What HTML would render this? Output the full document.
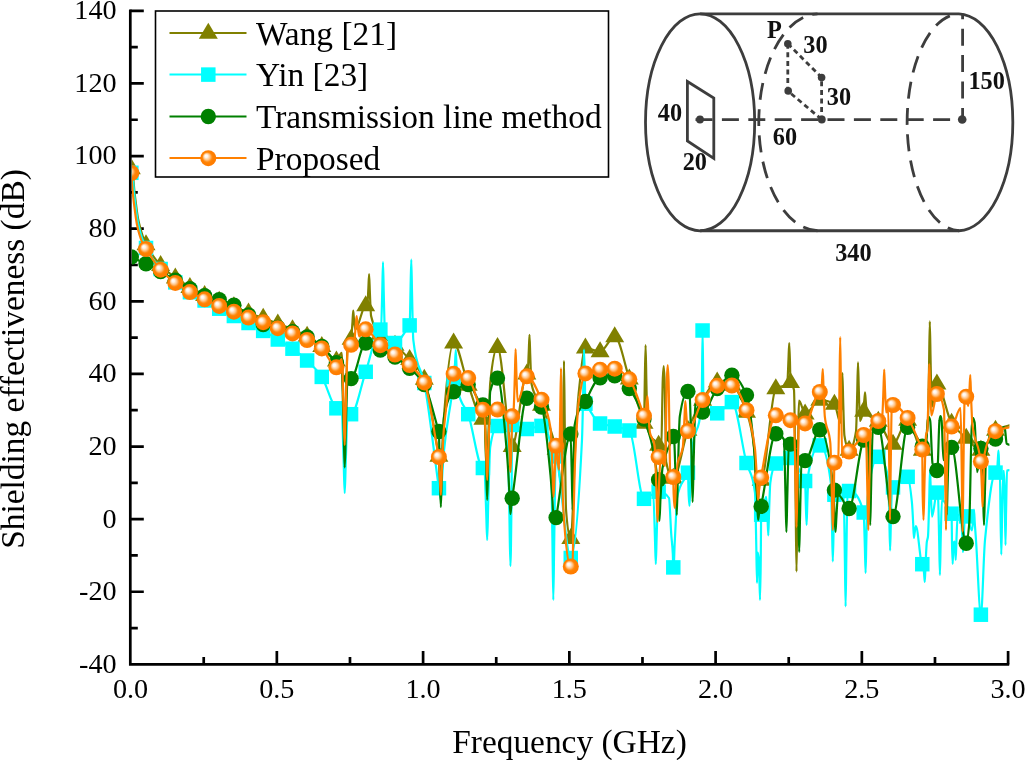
<!DOCTYPE html>
<html><head><meta charset="utf-8"><style>
html,body{margin:0;padding:0;background:#fff;}
svg{display:block;will-change:transform;}
text{font-family:"Liberation Serif",serif;}
</style></head><body>
<svg width="1025" height="760" viewBox="0 0 1025 760">
<defs>
<radialGradient id="sph" cx="0.5" cy="0.5" r="0.5" fx="0.34" fy="0.34" gradientUnits="objectBoundingBox">
<stop offset="0" stop-color="#ffffff"/>
<stop offset="0.18" stop-color="#fff4ea"/>
<stop offset="0.4" stop-color="#ffc589"/>
<stop offset="0.6" stop-color="#ff8a12"/>
<stop offset="0.7" stop-color="#ff8000"/>
<stop offset="1" stop-color="#ff7b00"/>
</radialGradient>
</defs>
<g stroke="#000" stroke-width="2.7" fill="none" stroke-linecap="butt">
<path d="M130.3,9.5 V665.75 M128.95000000000002,664.4 H1009.2"/>
<path d="M130.3,628.08 h7.5 M130.3,591.77 h13.5 M130.3,555.46 h7.5 M130.3,519.15 h13.5 M130.3,482.84 h7.5 M130.3,446.53 h13.5 M130.3,410.22 h7.5 M130.3,373.91 h13.5 M130.3,337.60 h7.5 M130.3,301.29 h13.5 M130.3,264.98 h7.5 M130.3,228.67 h13.5 M130.3,192.36 h7.5 M130.3,156.05 h13.5 M130.3,119.74 h7.5 M130.3,83.43 h13.5 M130.3,47.12 h7.5 M130.3,10.81 h13.5 M203.72,664.4 v-7.5 M276.85,664.4 v-13.5 M349.98,664.4 v-7.5 M423.10,664.4 v-13.5 M496.23,664.4 v-7.5 M569.35,664.4 v-13.5 M642.48,664.4 v-7.5 M715.60,664.4 v-13.5 M788.73,664.4 v-7.5 M861.85,664.4 v-13.5 M934.98,664.4 v-7.5 M1008.10,664.4 v-13.5"/>
</g>
<g font-family="Liberation Serif, serif" font-size="28.2" fill="#000">
<text x="116.6" y="672.79" text-anchor="end">-40</text>
<text x="116.6" y="600.17" text-anchor="end">-20</text>
<text x="116.6" y="527.55" text-anchor="end">0</text>
<text x="116.6" y="454.93" text-anchor="end">20</text>
<text x="116.6" y="382.31" text-anchor="end">40</text>
<text x="116.6" y="309.69" text-anchor="end">60</text>
<text x="116.6" y="237.07" text-anchor="end">80</text>
<text x="116.6" y="164.45" text-anchor="end">100</text>
<text x="116.6" y="91.83" text-anchor="end">120</text>
<text x="116.6" y="19.21" text-anchor="end">140</text>
<text x="130.60" y="698.3" text-anchor="middle">0.0</text>
<text x="276.85" y="698.3" text-anchor="middle">0.5</text>
<text x="423.10" y="698.3" text-anchor="middle">1.0</text>
<text x="569.35" y="698.3" text-anchor="middle">1.5</text>
<text x="715.60" y="698.3" text-anchor="middle">2.0</text>
<text x="861.85" y="698.3" text-anchor="middle">2.5</text>
<text x="1008.10" y="698.3" text-anchor="middle">3.0</text>
</g>
<text font-family="Liberation Serif, serif" font-size="33.4" x="569.5" y="752.8" text-anchor="middle">Frequency (GHz)</text>
<text font-family="Liberation Serif, serif" font-size="33.4" transform="translate(24.3,359) rotate(-90)" text-anchor="middle">Shielding effectiveness (dB)</text>
<clipPath id="pc"><rect x="131.9" y="9" width="877.5" height="654"/></clipPath>
<g clip-path="url(#pc)">
<path d="M131.3,168.6 C131.9,171.1 132.4,172.5 133.0,176.0 C133.4,178.8 133.9,185.9 134.3,190.0 C134.9,195.7 135.5,200.4 136.1,205.0 C136.7,209.9 137.4,215.2 138.0,218.5 C138.9,223.2 139.8,226.3 140.7,229.5 C141.5,232.5 142.4,235.2 143.2,237.5 C144.1,240.1 145.1,242.7 146.0,244.5 C150.9,253.9 155.8,260.1 160.6,265.3 C165.5,270.5 170.4,274.1 175.3,277.7 C180.2,281.3 185.1,284.4 189.9,287.3 C194.8,290.2 199.7,292.9 204.6,295.2 C209.5,297.5 214.3,299.2 219.2,301.1 C224.1,303.0 229.0,304.6 233.9,306.5 C238.8,308.4 243.6,310.9 248.5,312.8 C253.4,314.7 258.3,316.3 263.2,318.1 C268.1,319.9 272.9,321.8 277.8,323.7 C282.7,325.6 287.6,327.4 292.5,329.5 C297.3,331.6 302.2,333.4 307.1,336.1 C312.0,338.8 316.9,342.3 321.8,346.3 C326.6,350.3 331.5,360.8 336.4,360.8 C338.2,360.8 339.9,352.9 341.7,352.9 C342.3,352.9 343.0,389.5 343.6,411.2 C344.0,422.9 344.3,450.0 344.7,450.0 C345.1,450.0 345.4,420.4 345.8,407.6 C346.4,383.9 347.1,346.0 347.7,344.0 C348.8,340.5 349.9,342.3 351.1,339.0 C351.5,337.6 352.0,328.6 352.5,321.9 C352.7,318.7 353.0,310.7 353.2,310.7 C353.4,310.7 353.7,316.0 353.9,318.2 C354.3,322.5 354.8,329.5 355.2,329.5 C358.7,329.5 362.2,305.6 365.7,305.6 C366.2,305.6 366.6,308.3 367.1,308.3 C367.5,308.3 368.0,295.4 368.4,287.7 C368.6,283.6 368.9,274.0 369.1,274.0 C369.3,274.0 369.6,285.8 369.8,290.8 C370.2,300.2 370.7,314.1 371.1,316.1 C374.2,329.7 377.3,330.5 380.3,334.0 C385.2,339.5 390.1,340.8 395.0,345.0 C399.9,349.2 404.8,353.9 409.6,359.4 C414.5,364.9 419.4,368.5 424.3,379.0 C428.8,388.7 433.4,426.7 437.9,450.5 C438.2,452.4 438.6,453.0 438.9,456.0 C439.2,458.7 439.5,472.6 439.8,479.0 C440.2,486.4 440.5,498.0 440.9,498.0 C441.2,498.0 441.6,475.5 441.9,465.9 C442.6,447.9 443.2,426.3 443.9,417.6 C447.1,374.6 450.4,342.8 453.6,342.8 C458.5,342.8 463.3,372.4 468.2,385.0 C473.1,397.6 478.0,419.0 482.9,419.0 C483.3,419.0 483.8,412.5 484.2,412.5 C484.8,412.5 485.5,441.7 486.1,459.0 C486.5,468.3 486.8,490.0 487.2,490.0 C487.6,490.0 487.9,460.1 488.2,447.3 C488.9,423.4 489.6,389.6 490.2,383.2 C492.6,358.9 495.1,347.3 497.5,347.3 C502.4,347.3 507.3,446.2 512.2,446.2 C517.1,446.2 521.9,373.7 526.8,373.7 C527.0,373.7 527.3,375.2 527.5,375.2 C527.9,375.2 528.4,360.0 528.8,350.9 C529.0,346.1 529.3,334.8 529.5,334.8 C529.7,334.8 530.0,348.5 530.2,354.4 C530.6,365.3 531.1,381.6 531.5,383.7 C534.8,400.2 538.1,396.8 541.5,405.0 C546.3,417.1 551.2,428.4 556.1,449.1 C558.1,457.4 560.0,485.0 562.0,485.0 C562.4,485.0 562.9,438.3 563.3,410.5 C563.5,395.5 563.8,360.8 564.0,360.8 C564.2,360.8 564.5,402.3 564.7,420.2 C565.1,453.5 565.6,503.6 566.0,509.4 C567.6,530.5 569.2,538.4 570.8,538.4 C572.5,538.4 574.3,457.8 576.0,430.0 C577.0,414.1 578.0,399.2 579.0,390.0 C581.1,370.4 583.3,347.9 585.4,347.9 C590.3,347.9 595.2,351.6 600.1,351.6 C604.9,351.6 609.8,336.5 614.7,336.5 C619.6,336.5 624.5,364.3 629.3,378.7 C634.1,392.7 638.8,407.4 643.6,421.8 C643.7,422.2 643.9,423.0 644.0,423.0 C644.3,423.0 644.6,390.1 644.9,375.7 C645.1,364.6 645.4,345.0 645.6,345.0 C645.8,345.0 646.1,368.3 646.3,378.4 C646.7,397.0 647.2,426.8 647.6,428.4 C651.3,442.5 655.0,438.1 658.6,445.0 C659.5,446.6 660.3,450.8 661.2,450.8 C661.7,450.8 662.3,390.0 662.8,378.7 C663.1,372.6 663.4,366.0 663.7,366.0 C664.0,366.0 664.3,373.5 664.6,380.4 C665.1,393.2 665.7,459.1 666.2,462.0 C668.6,474.6 670.9,478.0 673.3,478.0 C678.2,478.0 683.1,442.3 687.9,430.0 C692.8,417.7 697.7,407.6 702.6,400.0 C707.5,392.4 712.3,381.8 717.2,381.8 C722.1,381.8 727.0,383.1 731.9,385.0 C736.8,386.9 741.6,398.5 746.5,412.0 C749.0,418.9 751.5,424.7 754.0,446.7 C754.6,452.5 755.3,474.3 756.0,490.7 C756.3,499.5 756.6,520.0 757.0,520.0 C757.4,520.0 757.7,507.3 758.0,501.8 C758.7,491.7 759.4,474.6 760.0,474.6 C760.4,474.6 760.8,480.0 761.2,480.0 C766.1,480.0 770.9,392.2 775.8,388.5 C779.6,385.6 783.4,387.9 787.2,383.7 C787.6,383.2 788.1,368.4 788.5,359.3 C788.7,354.4 789.0,343.0 789.2,343.0 C789.4,343.0 789.7,352.4 789.9,359.4 C790.1,365.0 790.3,381.5 790.5,382.3 C790.7,383.3 791.0,383.4 791.2,383.9 C792.1,385.9 793.1,385.7 794.0,389.9 C794.5,392.4 795.1,458.3 795.6,498.9 C795.9,520.8 796.2,571.6 796.5,571.6 C796.8,571.6 797.1,523.8 797.4,503.2 C797.9,465.0 798.5,400.7 799.0,400.7 C801.0,400.7 803.1,413.8 805.1,413.8 C810.0,413.8 814.9,400.0 819.8,400.0 C824.6,400.0 829.5,401.2 834.4,404.0 C836.4,405.1 838.4,422.8 840.4,422.8 C840.8,422.8 841.3,404.1 841.7,392.9 C841.9,386.9 842.2,373.0 842.4,373.0 C842.6,373.0 842.9,390.4 843.1,398.0 C843.5,411.9 844.0,432.5 844.4,435.4 C846.0,445.7 847.5,450.0 849.1,450.0 C851.4,450.0 853.7,445.6 856.0,431.5 C856.4,428.9 856.9,405.5 857.3,390.0 C857.5,381.7 857.8,362.4 858.0,362.4 C858.2,362.4 858.5,378.7 858.7,385.8 C859.1,398.9 859.6,420.9 860.0,420.9 C861.0,420.9 862.0,415.5 863.0,412.9 C863.2,412.2 863.5,412.1 863.7,411.0 C863.9,410.1 864.1,403.4 864.3,400.6 C864.5,397.3 864.8,392.4 865.0,392.4 C865.2,392.4 865.5,398.2 865.7,400.7 C866.1,405.4 866.6,412.5 867.0,413.3 C870.8,419.5 874.6,417.5 878.3,421.0 C883.2,425.6 888.1,444.0 893.0,444.0 C897.9,444.0 902.8,420.0 907.6,420.0 C912.5,420.0 917.4,450.0 922.3,450.0 C924.1,450.0 926.0,443.4 927.8,425.1 C928.2,420.8 928.7,386.1 929.1,362.9 C929.3,350.4 929.6,321.4 929.8,321.4 C930.0,321.4 930.3,345.3 930.5,355.6 C930.9,374.8 931.4,407.0 931.8,407.0 C933.5,407.0 935.2,383.8 936.9,383.8 C941.8,383.8 946.7,415.8 951.6,423.0 C956.5,430.2 961.3,433.6 966.2,438.0 C971.1,442.4 976.0,450.0 980.9,450.0 C985.8,450.0 990.6,432.7 995.5,430.0 C1000.4,427.3 1005.3,426.7 1010.2,425.0" fill="none" stroke="#808000" stroke-width="2.2" stroke-linejoin="round"/>
<g fill="#808000"><path d="M131.3,158.3l9.5,16h-19z"/><path d="M146.0,234.2l9.5,16h-19z"/><path d="M160.6,255.0l9.5,16h-19z"/><path d="M175.3,267.4l9.5,16h-19z"/><path d="M189.9,277.0l9.5,16h-19z"/><path d="M204.6,284.9l9.5,16h-19z"/><path d="M219.2,290.8l9.5,16h-19z"/><path d="M233.9,296.2l9.5,16h-19z"/><path d="M248.5,302.5l9.5,16h-19z"/><path d="M263.2,307.8l9.5,16h-19z"/><path d="M277.8,313.4l9.5,16h-19z"/><path d="M292.5,319.2l9.5,16h-19z"/><path d="M307.1,325.8l9.5,16h-19z"/><path d="M321.8,336.0l9.5,16h-19z"/><path d="M336.4,350.5l9.5,16h-19z"/><path d="M351.1,328.7l9.5,16h-19z"/><path d="M365.7,295.3l9.5,16h-19z"/><path d="M380.3,323.7l9.5,16h-19z"/><path d="M395.0,334.7l9.5,16h-19z"/><path d="M409.6,349.1l9.5,16h-19z"/><path d="M424.3,368.7l9.5,16h-19z"/><path d="M438.9,445.7l9.5,16h-19z"/><path d="M453.6,332.5l9.5,16h-19z"/><path d="M468.2,374.7l9.5,16h-19z"/><path d="M482.9,408.7l9.5,16h-19z"/><path d="M497.5,337.0l9.5,16h-19z"/><path d="M512.2,435.9l9.5,16h-19z"/><path d="M526.8,363.4l9.5,16h-19z"/><path d="M541.5,394.7l9.5,16h-19z"/><path d="M556.1,438.8l9.5,16h-19z"/><path d="M570.8,528.1l9.5,16h-19z"/><path d="M585.4,337.6l9.5,16h-19z"/><path d="M600.1,341.3l9.5,16h-19z"/><path d="M614.7,326.2l9.5,16h-19z"/><path d="M629.3,368.4l9.5,16h-19z"/><path d="M644.0,412.7l9.5,16h-19z"/><path d="M658.6,434.7l9.5,16h-19z"/><path d="M673.3,467.7l9.5,16h-19z"/><path d="M687.9,419.7l9.5,16h-19z"/><path d="M702.6,389.7l9.5,16h-19z"/><path d="M717.2,371.5l9.5,16h-19z"/><path d="M731.9,374.7l9.5,16h-19z"/><path d="M746.5,401.7l9.5,16h-19z"/><path d="M761.2,469.7l9.5,16h-19z"/><path d="M775.8,378.2l9.5,16h-19z"/><path d="M790.5,372.0l9.5,16h-19z"/><path d="M805.1,403.5l9.5,16h-19z"/><path d="M819.8,389.7l9.5,16h-19z"/><path d="M834.4,393.7l9.5,16h-19z"/><path d="M849.1,439.7l9.5,16h-19z"/><path d="M863.7,400.7l9.5,16h-19z"/><path d="M878.3,410.7l9.5,16h-19z"/><path d="M893.0,433.7l9.5,16h-19z"/><path d="M907.6,409.7l9.5,16h-19z"/><path d="M922.3,439.7l9.5,16h-19z"/><path d="M936.9,373.5l9.5,16h-19z"/><path d="M951.6,412.7l9.5,16h-19z"/><path d="M966.2,427.7l9.5,16h-19z"/><path d="M980.9,439.7l9.5,16h-19z"/><path d="M995.5,419.7l9.5,16h-19z"/></g>
<path d="M131.3,172.8 C131.9,175.4 132.4,176.8 133.0,180.5 C133.4,183.4 133.9,190.9 134.3,195.0 C134.9,200.7 135.5,205.3 136.1,209.8 C136.7,214.5 137.4,219.4 138.0,222.7 C138.9,227.4 139.8,230.5 140.7,233.7 C141.5,236.6 142.4,239.3 143.2,241.5 C144.1,244.0 145.1,246.3 146.0,248.0 C150.9,257.1 155.8,263.5 160.6,269.0 C165.5,274.5 170.4,278.6 175.3,282.4 C180.2,286.2 185.1,289.2 189.9,292.2 C194.8,295.2 199.7,297.8 204.6,300.5 C209.5,303.2 214.3,306.1 219.2,308.7 C224.1,311.3 229.0,313.6 233.9,316.0 C238.8,318.4 243.6,320.5 248.5,323.0 C253.4,325.5 258.3,328.2 263.2,330.9 C268.1,333.6 272.9,336.5 277.8,339.5 C282.7,342.5 287.6,345.3 292.5,348.7 C297.3,352.1 302.2,355.9 307.1,360.5 C312.0,365.1 316.9,369.7 321.8,376.9 C326.6,384.1 331.5,405.3 336.4,408.3 C338.2,409.4 339.9,408.8 341.7,410.4 C342.3,411.0 343.0,441.5 343.6,460.0 C344.0,469.9 344.3,493.0 344.7,493.0 C345.1,493.0 345.4,470.6 345.8,460.9 C346.4,443.0 347.1,412.8 347.7,412.8 C348.8,412.8 349.9,414.2 351.1,414.2 C355.9,414.2 360.8,385.9 365.7,371.8 C370.6,357.7 375.5,329.6 380.3,329.6 C380.6,329.6 380.8,330.2 381.0,330.2 C381.4,330.2 381.9,304.5 382.3,289.3 C382.5,281.1 382.8,262.0 383.0,262.0 C383.2,262.0 383.5,282.1 383.7,290.7 C384.1,306.8 384.6,332.8 385.0,333.9 C388.3,341.7 391.7,343.0 395.0,343.0 C399.8,343.0 404.5,331.5 409.3,325.8 C409.4,325.7 409.5,325.6 409.6,325.4 C410.0,324.8 410.3,298.6 410.6,286.0 C410.8,276.8 411.1,259.5 411.3,259.5 C411.5,259.5 411.8,281.9 412.0,291.6 C412.4,309.6 412.9,335.9 413.3,339.8 C417.0,372.9 420.6,364.6 424.3,383.0 C428.8,405.8 433.4,448.2 437.9,480.8 C438.2,483.2 438.6,486.3 438.9,488.2 C439.2,489.9 439.5,490.6 439.8,492.3 C440.2,494.2 440.5,500.0 440.9,500.0 C441.2,500.0 441.6,486.5 441.9,480.6 C442.6,469.8 443.2,458.5 443.9,451.5 C447.1,417.2 450.4,411.8 453.6,380.5 C454.1,375.6 454.6,369.6 455.1,362.2 C455.3,358.8 455.6,350.0 455.8,350.0 C456.0,350.0 456.3,361.1 456.5,365.9 C456.9,374.8 457.4,387.6 457.8,389.8 C461.3,407.9 464.8,404.4 468.2,414.2 C473.1,428.0 478.0,468.0 482.9,468.0 C483.3,468.0 483.8,464.2 484.2,464.2 C484.8,464.2 485.5,492.7 486.1,509.7 C486.5,518.8 486.8,540.0 487.2,540.0 C487.6,540.0 487.9,514.0 488.2,502.8 C488.9,482.0 489.6,451.0 490.2,447.0 C492.6,431.9 495.1,426.3 497.5,426.0 C500.8,425.5 504.1,425.3 507.4,425.3 C508.0,425.3 508.7,478.3 509.3,509.7 C509.7,526.7 510.0,566.0 510.4,566.0 C510.8,566.0 511.1,536.1 511.4,509.7 C511.7,491.6 511.9,425.0 512.2,425.0 C512.6,425.0 513.0,425.2 513.4,425.3 C517.9,426.6 522.3,429.0 526.8,429.0 C531.7,429.0 536.6,425.9 541.5,425.9 C544.6,425.9 547.7,429.3 550.8,445.3 C551.3,448.1 551.9,503.5 552.4,538.1 C552.7,556.8 553.0,600.0 553.3,600.0 C553.6,600.0 553.9,559.7 554.2,542.3 C554.7,510.0 555.3,455.7 555.8,455.7 C555.9,455.7 556.0,456.1 556.1,456.4 C561.0,469.7 565.9,558.0 570.8,558.0 C574.5,558.0 578.3,514.3 582.0,439.6 C582.4,430.9 582.9,405.7 583.3,385.5 C583.5,374.7 583.8,349.5 584.0,349.5 C584.2,349.5 584.5,362.8 584.7,371.5 C584.9,380.3 585.2,403.1 585.4,403.7 C585.6,404.2 585.8,404.2 586.0,404.5 C590.7,410.8 595.4,421.8 600.1,423.5 C604.9,425.2 609.8,425.4 614.7,426.5 C619.6,427.6 624.5,428.0 629.3,430.5 C634.2,433.0 639.1,498.8 644.0,498.8 C647.1,498.8 650.2,494.3 653.3,494.3 C653.8,494.3 654.4,520.5 654.9,536.1 C655.2,544.5 655.5,564.0 655.8,564.0 C656.1,564.0 656.4,543.8 656.7,535.1 C657.2,519.0 657.8,492.3 658.3,491.9 C658.4,491.8 658.5,491.7 658.6,491.7 C662.1,491.7 665.5,492.9 669.0,498.0 C669.7,499.1 670.5,523.4 671.2,533.6 C671.7,541.1 672.3,543.4 672.8,553.6 C673.0,556.6 673.1,567.4 673.3,567.4 C673.4,567.4 673.6,567.2 673.7,567.0 C674.0,566.5 674.3,551.9 674.6,545.4 C675.1,533.3 675.7,523.4 676.2,513.0 C676.5,507.8 676.7,499.4 677.0,498.0 C680.3,480.4 683.7,482.6 687.0,474.9 C687.3,474.1 687.6,472.7 687.9,472.7 C688.2,472.7 688.4,489.0 688.6,493.5 C688.9,499.3 689.2,506.0 689.5,506.0 C689.8,506.0 690.1,490.7 690.4,484.1 C690.9,471.8 691.5,456.5 692.0,451.2 C695.2,419.8 698.5,442.3 701.7,400.0 C702.0,396.2 702.3,330.5 702.6,330.5 C702.9,330.5 703.2,399.2 703.5,400.0 C708.1,412.2 712.7,413.3 717.2,413.3 C722.1,413.3 727.0,402.1 731.9,402.1 C736.8,402.1 741.6,444.5 746.5,463.0 C749.3,473.7 752.2,469.8 755.0,492.9 C755.4,496.5 755.9,526.8 756.3,547.0 C756.5,557.8 756.8,583.0 757.0,583.0 C757.2,583.0 757.5,552.6 757.7,552.6 C758.1,552.6 758.6,556.3 759.0,561.4 C759.3,565.4 759.7,600.0 760.0,600.0 C760.2,600.0 760.5,581.1 760.7,564.7 C760.9,553.7 761.0,515.9 761.2,514.7 C761.4,512.7 761.7,512.8 762.0,511.8 C763.4,506.8 764.9,496.8 766.3,496.8 C766.7,496.8 767.2,511.3 767.6,520.0 C767.8,524.7 768.1,535.5 768.3,535.5 C768.5,535.5 768.8,520.8 769.0,514.4 C769.4,502.6 769.9,485.9 770.3,482.8 C772.1,469.5 774.0,464.9 775.8,463.5 C780.7,459.7 785.6,458.0 790.5,458.0 C795.2,458.0 799.9,472.8 804.6,480.2 C804.8,480.5 804.9,480.5 805.1,481.0 C805.4,481.7 805.6,499.5 805.9,507.1 C806.1,513.8 806.4,525.0 806.6,525.0 C806.8,525.0 807.1,510.3 807.3,504.0 C807.7,492.3 808.2,475.0 808.6,472.5 C812.3,451.6 816.0,445.4 819.8,445.4 C823.4,445.4 827.1,453.5 830.8,482.6 C831.2,486.0 831.7,512.3 832.1,529.9 C832.3,539.4 832.6,561.5 832.8,561.5 C833.0,561.5 833.3,544.3 833.5,534.7 C833.8,522.4 834.1,494.8 834.4,494.7 C834.5,494.6 834.7,494.6 834.8,494.6 C837.7,493.9 840.7,492.4 843.6,492.4 C844.0,492.4 844.5,535.3 844.9,560.9 C845.1,574.6 845.4,606.5 845.6,606.5 C845.8,606.5 846.1,574.3 846.3,560.4 C846.7,534.7 847.2,491.6 847.6,491.4 C848.1,491.1 848.6,491.0 849.1,491.0 C853.9,491.0 858.8,494.3 863.6,512.5 C864.0,514.1 864.5,535.2 864.9,548.7 C865.1,556.0 865.4,573.0 865.6,573.0 C865.8,573.0 866.1,551.9 866.3,542.9 C866.7,526.0 867.2,501.4 867.6,497.7 C871.2,466.6 874.8,456.8 878.3,456.8 C881.6,456.8 884.8,460.7 888.1,477.2 C888.5,479.4 889.0,504.8 889.4,521.2 C889.6,530.0 889.9,550.5 890.1,550.5 C890.3,550.5 890.6,532.3 890.8,524.5 C891.2,510.0 891.7,485.5 892.1,485.5 C892.4,485.5 892.7,487.4 893.0,487.4 C897.9,487.4 902.8,476.8 907.6,476.8 C909.1,476.8 910.5,488.6 911.9,502.2 C912.3,506.4 912.8,515.7 913.2,523.7 C913.4,528.0 913.7,538.0 913.9,538.0 C914.1,538.0 914.4,534.7 914.6,533.2 C915.0,530.6 915.5,526.1 915.9,526.1 C918.0,526.1 920.2,564.2 922.3,564.2 C922.5,564.2 922.6,561.7 922.8,561.7 C923.2,561.7 923.7,569.3 924.1,573.9 C924.3,576.3 924.6,582.0 924.8,582.0 C925.0,582.0 925.3,570.9 925.5,566.1 C925.9,557.1 926.4,545.5 926.8,542.1 C927.2,539.1 927.6,539.6 928.0,536.3 C928.4,532.7 928.9,511.1 929.3,496.2 C929.5,488.2 929.8,469.5 930.0,469.5 C930.2,469.5 930.5,482.7 930.7,488.4 C931.1,499.0 931.6,516.7 932.0,516.7 C933.6,516.7 935.3,492.6 936.9,492.6 C937.3,492.6 937.6,493.1 937.9,494.0 C938.3,495.1 938.8,524.5 939.2,542.6 C939.4,552.4 939.7,575.0 939.9,575.0 C940.1,575.0 940.4,554.0 940.6,544.9 C941.0,528.1 941.5,499.8 941.9,499.8 C944.8,499.8 947.8,508.2 950.7,512.4 C951.0,512.9 951.3,512.8 951.6,513.7 C951.7,514.1 951.9,537.4 952.0,543.4 C952.2,553.4 952.5,564.0 952.7,564.0 C952.9,564.0 953.2,545.0 953.4,544.1 C953.8,542.4 954.3,541.6 954.7,541.6 C955.0,541.6 955.4,560.0 955.7,560.0 C955.9,560.0 956.2,547.4 956.4,541.9 C956.8,531.8 957.3,514.8 957.7,514.8 C958.8,514.8 959.9,515.0 961.0,515.4 C961.4,515.6 961.9,529.2 962.3,537.4 C962.5,541.8 962.8,552.0 963.0,552.0 C963.2,552.0 963.5,542.0 963.7,537.7 C964.1,529.7 964.6,516.2 965.0,516.2 C965.4,516.2 965.8,516.3 966.2,516.4 C968.2,517.0 970.1,530.3 972.0,530.3 C972.4,530.3 972.9,522.5 973.3,517.8 C973.5,515.3 973.8,509.5 974.0,509.5 C974.2,509.5 974.5,518.0 974.7,521.7 C975.1,528.5 975.6,533.7 976.0,540.0 C977.6,563.7 979.3,614.7 980.9,614.7 C982.3,614.7 983.6,554.0 985.0,540.0 C988.5,504.3 992.0,473.6 995.5,472.6 C996.0,472.5 996.4,472.5 996.9,472.4 C997.2,472.2 997.5,464.1 997.9,459.2 C998.0,456.6 998.2,450.5 998.4,450.5 C998.6,450.5 998.8,455.1 998.9,459.0 C999.0,461.8 999.2,471.9 999.3,471.9 C999.5,471.9 999.7,471.8 999.9,471.8 C1000.1,471.8 1000.4,508.3 1000.6,521.5 C1000.8,534.8 1001.1,554.6 1001.3,554.6 C1001.5,554.6 1001.8,531.3 1002.0,521.2 C1002.4,502.6 1002.9,471.4 1003.3,471.2 C1003.5,471.1 1003.8,471.1 1004.0,471.1 C1004.3,471.1 1004.6,498.9 1005.0,515.4 C1005.1,524.3 1005.3,545.0 1005.5,545.0 C1005.7,545.0 1005.9,524.2 1006.0,515.2 C1006.4,498.6 1006.7,470.7 1007.0,470.6 C1008.1,470.1 1009.1,470.2 1010.2,470.0" fill="none" stroke="#00ffff" stroke-width="2.2" stroke-linejoin="round"/>
<g fill="#00ffff"><rect x="124.10" y="165.55" width="14.5" height="14.5"/><rect x="138.75" y="240.75" width="14.5" height="14.5"/><rect x="153.39" y="261.75" width="14.5" height="14.5"/><rect x="168.04" y="275.15" width="14.5" height="14.5"/><rect x="182.69" y="284.95" width="14.5" height="14.5"/><rect x="197.33" y="293.25" width="14.5" height="14.5"/><rect x="211.98" y="301.45" width="14.5" height="14.5"/><rect x="226.63" y="308.75" width="14.5" height="14.5"/><rect x="241.28" y="315.75" width="14.5" height="14.5"/><rect x="255.92" y="323.65" width="14.5" height="14.5"/><rect x="270.57" y="332.25" width="14.5" height="14.5"/><rect x="285.22" y="341.45" width="14.5" height="14.5"/><rect x="299.86" y="353.25" width="14.5" height="14.5"/><rect x="314.51" y="369.65" width="14.5" height="14.5"/><rect x="329.16" y="401.05" width="14.5" height="14.5"/><rect x="343.81" y="406.95" width="14.5" height="14.5"/><rect x="358.45" y="364.55" width="14.5" height="14.5"/><rect x="373.10" y="322.35" width="14.5" height="14.5"/><rect x="387.75" y="335.75" width="14.5" height="14.5"/><rect x="402.39" y="318.15" width="14.5" height="14.5"/><rect x="417.04" y="375.75" width="14.5" height="14.5"/><rect x="431.69" y="480.95" width="14.5" height="14.5"/><rect x="446.33" y="372.75" width="14.5" height="14.5"/><rect x="460.98" y="406.95" width="14.5" height="14.5"/><rect x="475.63" y="460.75" width="14.5" height="14.5"/><rect x="490.27" y="418.75" width="14.5" height="14.5"/><rect x="504.92" y="417.75" width="14.5" height="14.5"/><rect x="519.57" y="421.75" width="14.5" height="14.5"/><rect x="534.22" y="418.65" width="14.5" height="14.5"/><rect x="548.86" y="449.15" width="14.5" height="14.5"/><rect x="563.51" y="550.75" width="14.5" height="14.5"/><rect x="578.16" y="396.45" width="14.5" height="14.5"/><rect x="592.80" y="416.25" width="14.5" height="14.5"/><rect x="607.45" y="419.25" width="14.5" height="14.5"/><rect x="622.10" y="423.25" width="14.5" height="14.5"/><rect x="636.75" y="491.55" width="14.5" height="14.5"/><rect x="651.39" y="484.45" width="14.5" height="14.5"/><rect x="666.04" y="560.15" width="14.5" height="14.5"/><rect x="680.69" y="465.45" width="14.5" height="14.5"/><rect x="695.33" y="323.25" width="14.5" height="14.5"/><rect x="709.98" y="406.05" width="14.5" height="14.5"/><rect x="724.63" y="394.85" width="14.5" height="14.5"/><rect x="739.27" y="455.75" width="14.5" height="14.5"/><rect x="753.92" y="507.45" width="14.5" height="14.5"/><rect x="768.57" y="456.25" width="14.5" height="14.5"/><rect x="783.22" y="450.75" width="14.5" height="14.5"/><rect x="797.86" y="473.75" width="14.5" height="14.5"/><rect x="812.51" y="438.15" width="14.5" height="14.5"/><rect x="827.16" y="487.45" width="14.5" height="14.5"/><rect x="841.80" y="483.75" width="14.5" height="14.5"/><rect x="856.45" y="505.25" width="14.5" height="14.5"/><rect x="871.10" y="449.55" width="14.5" height="14.5"/><rect x="885.74" y="480.15" width="14.5" height="14.5"/><rect x="900.39" y="469.55" width="14.5" height="14.5"/><rect x="915.04" y="556.95" width="14.5" height="14.5"/><rect x="929.69" y="485.35" width="14.5" height="14.5"/><rect x="944.33" y="506.45" width="14.5" height="14.5"/><rect x="958.98" y="509.15" width="14.5" height="14.5"/><rect x="973.63" y="607.45" width="14.5" height="14.5"/><rect x="988.27" y="465.35" width="14.5" height="14.5"/></g>
<path d="M131.3,257.0 C136.2,259.3 141.1,261.4 146.0,263.8 C150.9,266.2 155.8,268.8 160.6,271.5 C165.5,274.2 170.4,277.3 175.3,280.2 C180.2,283.1 185.1,286.2 189.9,288.8 C194.8,291.4 199.7,294.0 204.6,295.7 C209.5,297.4 214.3,298.1 219.2,299.6 C224.1,301.1 229.0,302.9 233.9,305.3 C238.8,307.7 243.6,311.7 248.5,314.9 C253.4,318.1 258.3,323.0 263.2,324.5 C268.1,326.0 272.9,326.3 277.8,327.5 C282.7,328.7 287.6,330.2 292.5,331.7 C297.3,333.2 302.2,334.7 307.1,336.9 C312.0,339.1 316.9,342.4 321.8,346.4 C326.6,350.4 331.5,357.5 336.4,362.8 C338.2,364.7 339.9,364.2 341.7,368.5 C342.3,370.1 343.0,405.8 343.6,427.9 C344.0,439.8 344.3,467.5 344.7,467.5 C345.1,467.5 345.4,441.6 345.8,430.5 C346.4,409.8 347.1,375.0 347.7,375.0 C348.8,375.0 349.9,378.6 351.1,378.6 C355.9,378.6 360.8,343.0 365.7,343.0 C370.6,343.0 375.5,347.7 380.3,350.0 C385.2,352.3 390.1,354.1 395.0,357.0 C399.9,359.9 404.8,363.8 409.6,368.2 C414.5,372.6 419.4,376.4 424.3,384.5 C428.8,392.0 433.4,413.6 437.9,428.2 C438.2,429.3 438.6,429.4 438.9,431.5 C439.2,433.4 439.5,464.1 439.8,475.5 C440.2,488.5 440.5,507.0 440.9,507.0 C441.2,507.0 441.6,482.1 441.9,471.4 C442.6,451.5 443.2,422.0 443.9,418.0 C447.1,398.6 450.4,394.7 453.6,391.8 C458.5,387.5 463.3,384.5 468.2,384.5 C473.1,384.5 478.0,405.0 482.9,405.0 C483.3,405.0 483.8,402.6 484.2,402.6 C484.8,402.6 485.5,439.2 486.1,461.0 C486.5,472.8 486.8,500.0 487.2,500.0 C487.6,500.0 487.9,469.7 488.2,456.6 C488.9,432.4 489.6,394.3 490.2,391.6 C492.6,381.3 495.1,378.1 497.5,378.1 C500.8,378.1 504.1,419.7 507.4,459.1 C508.0,466.9 508.7,479.7 509.3,492.0 C509.7,498.6 510.0,514.0 510.4,514.0 C510.8,514.0 511.1,507.4 511.4,504.3 C511.7,502.2 511.9,500.0 512.2,498.2 C512.6,495.1 513.0,492.6 513.4,489.8 C517.9,459.3 522.3,398.3 526.8,398.3 C531.7,398.3 536.6,401.2 541.5,407.0 C544.5,410.6 547.5,444.5 550.5,475.2 C551.1,481.8 551.8,491.3 552.5,500.9 C552.8,506.0 553.1,518.0 553.5,518.0 C553.9,518.0 554.2,517.0 554.5,517.0 C555.1,517.0 555.6,517.6 556.1,517.6 C556.2,517.6 556.4,516.1 556.5,515.4 C561.2,488.6 565.9,434.9 570.6,434.9 C571.0,434.9 571.5,463.2 571.9,480.0 C572.1,489.0 572.4,510.0 572.6,510.0 C572.8,510.0 573.1,486.4 573.3,476.2 C573.7,457.3 574.2,427.9 574.6,425.5 C578.2,405.7 581.8,408.3 585.4,401.5 C590.3,392.3 595.2,379.0 600.1,377.8 C604.9,376.6 609.8,375.8 614.7,375.8 C619.6,375.8 624.5,382.6 629.3,388.6 C634.2,394.6 639.1,405.4 644.0,419.0 C648.1,430.5 652.3,439.0 656.4,470.5 C657.0,475.4 657.7,489.5 658.4,500.8 C658.7,506.9 659.0,521.0 659.4,521.0 C659.8,521.0 660.1,506.4 660.4,500.1 C661.1,488.4 661.8,472.6 662.4,468.7 C666.0,447.1 669.7,447.5 673.3,436.5 C673.5,436.0 673.6,434.9 673.8,434.9 C674.4,434.9 675.1,465.1 675.8,483.0 C676.1,492.6 676.4,515.0 676.8,515.0 C677.1,515.0 677.5,487.5 677.8,475.6 C678.5,453.6 679.1,420.8 679.8,416.5 C682.5,398.3 685.2,391.5 687.9,391.5 C688.5,391.5 689.0,392.4 689.6,393.8 C690.2,395.5 690.9,434.5 691.6,458.7 C691.9,471.8 692.2,502.0 692.6,502.0 C693.0,502.0 693.3,474.1 693.6,462.1 C694.3,439.8 695.0,402.2 695.6,402.2 C697.9,402.2 700.3,412.0 702.6,412.0 C707.5,412.0 712.3,394.1 717.2,388.5 C722.1,382.9 727.0,375.3 731.9,375.3 C736.8,375.3 741.6,383.2 746.5,395.1 C749.3,402.0 752.2,426.0 755.0,459.4 C755.6,467.1 756.3,482.2 757.0,495.8 C757.3,503.1 757.6,520.0 758.0,520.0 C758.4,520.0 758.7,515.7 759.0,514.0 C759.7,510.9 760.4,509.1 761.0,506.3 C765.9,485.3 770.9,433.7 775.8,433.7 C778.5,433.7 781.2,434.7 783.9,439.4 C784.4,440.4 785.0,474.3 785.5,495.0 C785.8,506.1 786.1,532.0 786.4,532.0 C786.7,532.0 787.0,507.1 787.3,496.4 C787.8,476.5 788.4,443.0 788.9,443.0 C789.4,443.0 789.9,443.7 790.5,444.1 C792.5,445.8 794.6,445.6 796.7,451.1 C797.2,452.6 797.8,489.1 798.3,511.6 C798.6,523.8 798.9,552.0 799.2,552.0 C799.5,552.0 799.8,525.4 800.1,513.9 C800.6,492.6 801.2,456.8 801.7,456.8 C802.8,456.8 804.0,460.6 805.1,460.6 C810.0,460.6 814.9,429.8 819.8,429.8 C824.2,429.8 828.6,447.5 833.0,484.3 C833.5,488.2 833.9,504.2 834.4,512.9 C834.8,519.8 835.1,532.0 835.5,532.0 C835.8,532.0 836.1,521.5 836.4,517.0 C836.9,508.7 837.5,494.6 838.0,494.6 C841.7,494.6 845.4,508.5 849.1,508.5 C853.9,508.5 858.8,446.3 863.7,440.0 C865.0,438.3 866.4,436.6 867.7,436.6 C868.2,436.6 868.8,469.8 869.3,489.6 C869.6,500.3 869.9,525.0 870.2,525.0 C870.5,525.0 870.8,499.1 871.1,487.9 C871.6,467.2 872.2,433.4 872.7,432.3 C874.6,428.4 876.5,427.4 878.3,427.4 C883.2,427.4 888.1,516.5 893.0,516.5 C897.9,516.5 902.8,427.4 907.6,427.4 C912.5,427.4 917.4,439.0 922.3,446.3 C923.4,447.9 924.4,451.6 925.5,451.6 C926.3,451.6 927.0,422.5 927.8,419.8 C928.2,418.3 928.6,417.0 929.0,417.0 C929.4,417.0 929.8,418.7 930.2,420.7 C931.0,424.4 931.7,460.6 932.5,463.2 C934.0,468.1 935.5,470.5 936.9,470.5 C937.1,470.5 937.3,470.1 937.5,469.6 C938.1,467.9 938.8,424.6 939.5,420.3 C939.8,418.0 940.1,416.0 940.5,416.0 C940.9,416.0 941.2,417.6 941.5,419.5 C942.2,423.0 942.9,460.1 943.5,460.1 C943.9,460.1 944.4,458.1 944.8,458.1 C945.2,458.1 945.7,479.5 946.1,492.2 C946.3,499.1 946.6,515.0 946.8,515.0 C947.0,515.0 947.3,497.3 947.5,489.7 C947.9,475.6 948.4,453.2 948.8,451.8 C949.7,448.7 950.7,447.4 951.6,447.4 C956.5,447.4 961.3,543.2 966.2,543.2 C967.2,543.2 968.2,535.1 969.2,524.0 C970.1,514.3 970.9,434.9 971.8,426.5 C972.3,421.9 972.7,418.0 973.2,418.0 C973.7,418.0 974.1,420.0 974.6,422.3 C975.5,426.6 976.3,472.2 977.2,472.2 C978.4,472.2 979.7,449.6 980.9,448.4 C981.1,448.2 981.3,448.0 981.5,448.0 C982.0,448.0 982.6,477.0 983.1,494.2 C983.4,503.5 983.7,525.0 984.0,525.0 C984.3,525.0 984.6,502.6 984.9,492.9 C985.4,475.0 986.0,445.7 986.5,444.8 C989.5,439.9 992.5,439.0 995.5,439.0 C997.2,439.0 999.0,441.1 1000.7,441.1 C1001.4,441.1 1002.0,429.3 1002.7,428.1 C1003.0,427.5 1003.4,427.0 1003.7,427.0 C1004.1,427.0 1004.4,427.6 1004.8,428.3 C1005.4,429.6 1006.1,443.0 1006.7,443.6 C1007.9,444.6 1009.0,444.5 1010.2,445.0" fill="none" stroke="#008000" stroke-width="2.2" stroke-linejoin="round"/>
<g fill="#008000"><circle cx="131.3" cy="257.0" r="7.7"/><circle cx="146.0" cy="263.8" r="7.7"/><circle cx="160.6" cy="271.5" r="7.7"/><circle cx="175.3" cy="280.2" r="7.7"/><circle cx="189.9" cy="288.8" r="7.7"/><circle cx="204.6" cy="295.7" r="7.7"/><circle cx="219.2" cy="299.6" r="7.7"/><circle cx="233.9" cy="305.3" r="7.7"/><circle cx="248.5" cy="314.9" r="7.7"/><circle cx="263.2" cy="324.5" r="7.7"/><circle cx="277.8" cy="327.5" r="7.7"/><circle cx="292.5" cy="331.7" r="7.7"/><circle cx="307.1" cy="336.9" r="7.7"/><circle cx="321.8" cy="346.4" r="7.7"/><circle cx="336.4" cy="362.8" r="7.7"/><circle cx="351.1" cy="378.6" r="7.7"/><circle cx="365.7" cy="343.0" r="7.7"/><circle cx="380.3" cy="350.0" r="7.7"/><circle cx="395.0" cy="357.0" r="7.7"/><circle cx="409.6" cy="368.2" r="7.7"/><circle cx="424.3" cy="384.5" r="7.7"/><circle cx="438.9" cy="431.5" r="7.7"/><circle cx="453.6" cy="391.8" r="7.7"/><circle cx="468.2" cy="384.5" r="7.7"/><circle cx="482.9" cy="405.0" r="7.7"/><circle cx="497.5" cy="378.1" r="7.7"/><circle cx="512.2" cy="498.2" r="7.7"/><circle cx="526.8" cy="398.3" r="7.7"/><circle cx="541.5" cy="407.0" r="7.7"/><circle cx="556.1" cy="517.6" r="7.7"/><circle cx="570.8" cy="434.0" r="7.7"/><circle cx="585.4" cy="401.5" r="7.7"/><circle cx="600.1" cy="377.8" r="7.7"/><circle cx="614.7" cy="375.8" r="7.7"/><circle cx="629.3" cy="388.6" r="7.7"/><circle cx="644.0" cy="419.0" r="7.7"/><circle cx="658.6" cy="479.8" r="7.7"/><circle cx="673.3" cy="436.5" r="7.7"/><circle cx="687.9" cy="391.5" r="7.7"/><circle cx="702.6" cy="412.0" r="7.7"/><circle cx="717.2" cy="388.5" r="7.7"/><circle cx="731.9" cy="375.3" r="7.7"/><circle cx="746.5" cy="395.1" r="7.7"/><circle cx="761.2" cy="506.3" r="7.7"/><circle cx="775.8" cy="433.7" r="7.7"/><circle cx="790.5" cy="444.1" r="7.7"/><circle cx="805.1" cy="460.6" r="7.7"/><circle cx="819.8" cy="429.8" r="7.7"/><circle cx="834.4" cy="490.1" r="7.7"/><circle cx="849.1" cy="508.5" r="7.7"/><circle cx="863.7" cy="440.0" r="7.7"/><circle cx="878.3" cy="427.4" r="7.7"/><circle cx="893.0" cy="516.5" r="7.7"/><circle cx="907.6" cy="427.4" r="7.7"/><circle cx="922.3" cy="446.3" r="7.7"/><circle cx="936.9" cy="470.5" r="7.7"/><circle cx="951.6" cy="447.4" r="7.7"/><circle cx="966.2" cy="543.2" r="7.7"/><circle cx="980.9" cy="448.4" r="7.7"/><circle cx="995.5" cy="439.0" r="7.7"/></g>
<path d="M131.3,173.0 C131.5,175.8 131.7,178.8 131.9,181.3 C132.3,186.8 132.7,192.0 133.1,196.0 C133.7,202.0 134.3,206.3 134.9,210.8 C135.5,215.5 136.2,220.4 136.8,223.7 C137.7,228.4 138.6,231.7 139.5,234.7 C140.4,237.8 141.4,240.5 142.3,242.5 C143.5,245.2 144.8,247.0 146.0,249.0 C150.9,256.8 155.8,264.3 160.6,269.7 C165.5,275.1 170.4,279.3 175.3,282.9 C180.2,286.5 185.1,289.4 189.9,292.1 C194.8,294.8 199.7,297.0 204.6,299.3 C209.5,301.6 214.3,303.8 219.2,305.9 C224.1,308.0 229.0,309.8 233.9,311.7 C238.8,313.6 243.6,315.9 248.5,317.6 C253.4,319.3 258.3,320.5 263.2,322.2 C268.1,323.9 272.9,326.3 277.8,328.2 C282.7,330.1 287.6,331.5 292.5,333.4 C297.3,335.3 302.2,337.5 307.1,340.0 C312.0,342.5 316.9,344.5 321.8,348.4 C326.6,352.3 331.5,367.3 336.4,367.3 C338.2,367.3 339.9,359.2 341.7,359.2 C342.3,359.2 343.0,391.5 343.6,410.7 C344.0,421.0 344.3,445.0 344.7,445.0 C345.1,445.0 345.4,418.4 345.8,407.0 C346.4,385.7 347.1,352.0 347.7,350.0 C348.8,346.4 349.9,346.2 351.1,344.8 C352.1,343.5 353.1,343.7 354.1,341.6 C354.6,340.5 355.2,332.0 355.7,326.2 C356.0,323.2 356.3,316.0 356.6,316.0 C356.9,316.0 357.2,321.7 357.5,324.1 C358.0,328.7 358.6,336.3 359.1,336.3 C361.3,336.3 363.5,329.3 365.7,329.3 C370.6,329.3 375.5,341.3 380.3,345.2 C385.2,349.1 390.1,351.2 395.0,354.5 C399.9,357.8 404.8,360.6 409.6,365.0 C414.5,369.4 419.4,372.9 424.3,382.4 C428.8,391.2 433.4,428.6 437.9,451.7 C438.2,453.5 438.6,454.1 438.9,457.0 C439.2,459.6 439.5,471.9 439.8,477.7 C440.2,484.4 440.5,495.0 440.9,495.0 C441.2,495.0 441.6,476.5 441.9,468.5 C442.6,453.7 443.2,435.4 443.9,428.8 C447.1,396.0 450.4,373.8 453.6,373.8 C458.5,373.8 463.3,375.6 468.2,378.1 C473.1,380.6 478.0,409.7 482.9,409.7 C483.3,409.7 483.8,409.7 484.2,409.7 C484.8,409.7 485.5,436.2 486.1,451.9 C486.5,460.3 486.8,480.0 487.2,480.0 C487.6,480.0 487.9,460.3 488.2,451.9 C488.9,436.1 489.6,409.7 490.2,409.7 C492.6,409.6 495.1,409.6 497.5,409.6 C500.8,409.6 504.1,410.4 507.4,414.1 C508.0,414.9 508.7,435.9 509.3,448.8 C509.7,455.8 510.0,472.0 510.4,472.0 C510.8,472.0 511.1,459.0 511.4,448.4 C511.7,441.0 511.9,417.6 512.2,416.3 C512.6,414.0 513.0,414.9 513.4,412.9 C513.9,410.5 514.4,389.7 514.9,374.4 C515.1,367.2 515.4,349.0 515.6,349.0 C515.8,349.0 516.1,363.7 516.3,370.0 C516.7,381.7 517.2,401.5 517.6,401.5 C520.7,401.5 523.7,376.3 526.8,376.3 C531.7,376.3 536.6,389.1 541.5,399.7 C544.5,406.3 547.5,408.5 550.5,428.1 C551.1,432.4 551.8,454.1 552.5,469.5 C552.8,477.7 553.1,497.0 553.5,497.0 C553.9,497.0 554.2,484.5 554.5,477.8 C555.1,467.8 555.6,445.8 556.1,445.8 C556.2,445.8 556.4,447.9 556.5,449.0 C557.3,455.9 558.2,469.6 559.0,469.6 C559.4,469.6 559.9,431.4 560.3,408.6 C560.5,396.4 560.8,368.0 561.0,368.0 C561.2,368.0 561.5,405.6 561.7,421.8 C562.1,451.9 562.6,494.7 563.0,502.6 C565.5,548.3 568.1,566.5 570.6,566.5 C571.0,566.5 571.5,565.7 571.9,565.7 C572.1,565.7 572.4,566.0 572.6,566.0 C572.8,566.0 573.1,540.2 573.3,529.1 C573.7,508.5 574.2,487.2 574.6,473.8 C575.1,459.4 575.5,448.3 576.0,440.0 C577.0,422.2 578.0,406.8 579.0,400.0 C581.1,385.6 583.3,374.5 585.4,373.4 C590.3,370.8 595.2,370.2 600.1,369.7 C604.9,369.2 609.8,368.7 614.7,368.7 C619.6,368.7 624.5,373.8 629.3,379.3 C634.2,384.8 639.1,402.7 644.0,415.8 C644.3,416.6 644.6,418.3 644.9,418.3 C645.4,418.3 646.0,409.9 646.5,404.9 C646.8,402.2 647.1,396.0 647.4,396.0 C647.7,396.0 648.0,406.2 648.3,410.5 C648.8,418.7 649.4,429.6 649.9,432.4 C651.4,440.3 653.0,436.7 654.5,445.3 C655.1,448.9 655.8,474.2 656.5,491.3 C656.8,500.6 657.1,522.0 657.5,522.0 C657.9,522.0 658.2,504.5 658.5,497.0 C659.2,483.0 659.9,459.4 660.5,459.4 C662.1,459.4 663.6,465.9 665.2,465.9 C665.7,465.9 666.3,393.6 666.8,380.1 C667.1,372.9 667.4,365.0 667.7,365.0 C668.0,365.0 668.3,373.4 668.6,381.2 C669.1,395.5 669.7,471.3 670.2,472.8 C670.7,474.1 671.2,474.1 671.7,474.8 C672.2,475.5 672.8,475.2 673.3,477.0 C673.4,477.4 673.5,492.1 673.7,494.7 C674.0,502.5 674.4,508.0 674.7,508.0 C675.1,508.0 675.4,495.5 675.8,490.1 C676.4,480.0 677.1,466.8 677.7,463.1 C679.4,453.5 681.1,457.4 682.8,447.1 C683.3,443.9 683.9,429.8 684.4,419.5 C684.7,413.9 685.0,401.0 685.3,401.0 C685.6,401.0 685.9,409.5 686.2,413.2 C686.7,420.0 687.3,431.4 687.8,431.4 C692.7,431.4 697.7,406.6 702.6,400.0 C707.5,393.5 712.3,385.8 717.2,385.7 C722.1,385.6 727.0,385.5 731.9,385.5 C736.8,385.5 741.6,397.6 746.5,410.2 C749.3,417.5 752.2,426.5 755.0,449.1 C755.6,454.4 756.3,468.3 757.0,479.7 C757.3,485.8 757.6,500.0 758.0,500.0 C758.4,500.0 758.7,493.4 759.0,490.7 C759.7,485.6 760.4,481.1 761.0,477.5 C765.9,450.3 770.9,415.3 775.8,415.3 C780.7,415.3 785.6,419.0 790.5,420.2 C791.6,420.5 792.8,420.4 794.0,421.0 C794.5,421.2 795.1,460.9 795.6,484.6 C795.9,497.4 796.2,527.0 796.5,527.0 C796.8,527.0 797.1,497.7 797.4,485.0 C797.9,461.6 798.5,422.1 799.0,422.1 C801.0,422.1 803.1,423.4 805.1,423.4 C810.0,423.4 814.9,392.0 819.8,392.0 C820.1,392.0 820.5,397.0 820.8,397.0 C821.2,397.0 821.7,386.5 822.1,380.2 C822.3,376.8 822.6,369.0 822.8,369.0 C823.0,369.0 823.3,382.2 823.5,387.9 C823.9,398.5 824.4,412.4 824.8,416.3 C826.6,433.0 828.5,425.1 830.3,442.9 C830.8,448.1 831.4,475.7 831.9,495.2 C832.2,505.6 832.5,530.0 832.8,530.0 C833.1,530.0 833.4,514.5 833.7,502.8 C833.9,493.1 834.2,463.1 834.4,462.7 C834.7,462.2 835.0,462.2 835.3,462.0 C836.3,461.3 837.2,461.5 838.2,459.8 C838.6,459.1 839.1,413.6 839.5,386.1 C839.7,371.3 840.0,337.0 840.2,337.0 C840.4,337.0 840.7,370.5 840.9,384.9 C841.3,411.7 841.8,456.8 842.2,456.8 C844.5,456.8 846.8,453.6 849.1,451.6 C853.9,447.3 858.8,440.0 863.7,435.0 C864.4,434.3 865.1,433.0 865.8,433.0 C866.3,433.0 866.9,469.5 867.4,491.2 C867.7,502.9 868.0,530.0 868.3,530.0 C868.6,530.0 868.9,501.5 869.2,489.3 C869.7,466.5 870.3,429.5 870.8,428.2 C873.3,422.3 875.8,423.6 878.3,421.0 C879.6,419.7 880.9,419.9 882.2,416.8 C882.6,415.7 883.1,399.0 883.5,388.4 C883.7,382.7 884.0,369.5 884.2,369.5 C884.4,369.5 884.7,381.5 884.9,386.7 C885.3,396.3 885.8,412.4 886.2,412.4 C886.9,412.4 887.5,410.2 888.2,410.2 C888.6,410.2 889.0,451.5 889.4,476.1 C889.6,489.3 889.8,520.0 890.0,520.0 C890.2,520.0 890.4,488.2 890.6,474.5 C891.0,449.1 891.4,407.1 891.8,406.3 C892.2,405.4 892.6,405.0 893.0,405.0 C897.9,405.0 902.8,411.8 907.6,417.9 C912.1,423.5 916.5,437.1 921.0,446.7 C921.4,447.6 921.9,447.3 922.3,449.5 C922.4,450.1 922.5,484.2 922.6,490.7 C922.9,507.4 923.2,520.0 923.5,520.0 C923.8,520.0 924.1,496.4 924.4,486.2 C924.9,467.3 925.5,439.0 926.0,435.4 C926.4,432.6 926.9,433.4 927.3,430.5 C927.7,427.6 928.2,405.5 928.6,390.6 C928.8,382.6 929.1,364.0 929.3,364.0 C929.5,364.0 929.8,378.4 930.0,384.5 C930.4,396.0 930.9,415.4 931.3,415.4 C933.2,415.4 935.1,394.0 936.9,394.0 C939.3,394.0 941.6,396.9 944.0,409.7 C944.4,412.0 944.9,455.0 945.3,481.9 C945.5,496.4 945.8,530.0 946.0,530.0 C946.2,530.0 946.5,498.8 946.7,485.4 C947.1,460.5 947.6,418.6 948.0,418.6 C949.2,418.6 950.4,426.5 951.6,426.5 C954.6,426.5 957.6,408.2 960.6,408.2 C961.0,408.2 961.5,454.8 961.9,482.5 C962.1,497.4 962.4,532.0 962.6,532.0 C962.8,532.0 963.1,495.1 963.3,479.2 C963.7,449.7 964.2,401.8 964.6,400.0 C965.1,397.8 965.7,396.7 966.2,396.7 C966.9,396.7 967.6,405.9 968.3,405.9 C968.7,405.9 969.2,394.2 969.6,387.3 C969.8,383.6 970.1,375.0 970.3,375.0 C970.5,375.0 970.8,388.6 971.0,394.4 C971.4,405.3 971.9,419.6 972.3,423.6 C975.1,448.6 977.8,437.0 980.6,461.5 C981.0,465.3 981.5,478.1 981.9,488.3 C982.1,493.8 982.4,507.0 982.6,507.0 C982.8,507.0 983.1,492.1 983.3,485.7 C983.7,473.8 984.2,455.9 984.6,453.8 C988.2,435.9 991.9,433.1 995.5,431.2 C1000.4,428.6 1005.3,428.4 1010.2,427.0" fill="none" stroke="#ff8000" stroke-width="2.2" stroke-linejoin="round"/>
<g fill="url(#sph)"><circle cx="131.3" cy="173.0" r="8"/><circle cx="146.0" cy="249.0" r="8"/><circle cx="160.6" cy="269.7" r="8"/><circle cx="175.3" cy="282.9" r="8"/><circle cx="189.9" cy="292.1" r="8"/><circle cx="204.6" cy="299.3" r="8"/><circle cx="219.2" cy="305.9" r="8"/><circle cx="233.9" cy="311.7" r="8"/><circle cx="248.5" cy="317.6" r="8"/><circle cx="263.2" cy="322.2" r="8"/><circle cx="277.8" cy="328.2" r="8"/><circle cx="292.5" cy="333.4" r="8"/><circle cx="307.1" cy="340.0" r="8"/><circle cx="321.8" cy="348.4" r="8"/><circle cx="336.4" cy="367.3" r="8"/><circle cx="351.1" cy="344.8" r="8"/><circle cx="365.7" cy="329.3" r="8"/><circle cx="380.3" cy="345.2" r="8"/><circle cx="395.0" cy="354.5" r="8"/><circle cx="409.6" cy="365.0" r="8"/><circle cx="424.3" cy="382.4" r="8"/><circle cx="438.9" cy="457.0" r="8"/><circle cx="453.6" cy="373.8" r="8"/><circle cx="468.2" cy="378.1" r="8"/><circle cx="482.9" cy="409.7" r="8"/><circle cx="497.5" cy="409.6" r="8"/><circle cx="512.2" cy="416.3" r="8"/><circle cx="526.8" cy="376.3" r="8"/><circle cx="541.5" cy="399.7" r="8"/><circle cx="556.1" cy="445.8" r="8"/><circle cx="570.8" cy="566.5" r="8"/><circle cx="585.4" cy="373.4" r="8"/><circle cx="600.1" cy="369.7" r="8"/><circle cx="614.7" cy="368.7" r="8"/><circle cx="629.3" cy="379.3" r="8"/><circle cx="644.0" cy="415.8" r="8"/><circle cx="658.6" cy="456.9" r="8"/><circle cx="673.3" cy="477.0" r="8"/><circle cx="687.9" cy="431.0" r="8"/><circle cx="702.6" cy="400.0" r="8"/><circle cx="717.2" cy="385.7" r="8"/><circle cx="731.9" cy="385.5" r="8"/><circle cx="746.5" cy="410.2" r="8"/><circle cx="761.2" cy="477.5" r="8"/><circle cx="775.8" cy="415.3" r="8"/><circle cx="790.5" cy="420.2" r="8"/><circle cx="805.1" cy="423.4" r="8"/><circle cx="819.8" cy="392.0" r="8"/><circle cx="834.4" cy="462.7" r="8"/><circle cx="849.1" cy="451.6" r="8"/><circle cx="863.7" cy="435.0" r="8"/><circle cx="878.3" cy="421.0" r="8"/><circle cx="893.0" cy="405.0" r="8"/><circle cx="907.6" cy="417.9" r="8"/><circle cx="922.3" cy="449.5" r="8"/><circle cx="936.9" cy="394.0" r="8"/><circle cx="951.6" cy="426.5" r="8"/><circle cx="966.2" cy="396.7" r="8"/><circle cx="980.9" cy="461.5" r="8"/><circle cx="995.5" cy="431.2" r="8"/></g>
</g>
<g>
<rect x="155.5" y="11" width="453" height="166" fill="#fff" stroke="#000" stroke-width="1.6"/>
<path d="M169.5,33.0 H246.5" stroke="#808000" stroke-width="2"/>
<text font-family="Liberation Serif, serif" font-size="33.4" x="256" y="44.7">Wang [21]</text>
<path d="M169.5,74.4 H246.5" stroke="#00ffff" stroke-width="2"/>
<text font-family="Liberation Serif, serif" font-size="33.4" x="256" y="86.1">Yin [23]</text>
<path d="M169.5,116.4 H246.5" stroke="#008000" stroke-width="2"/>
<text font-family="Liberation Serif, serif" font-size="33.4" x="256" y="128.1">Transmission line method</text>
<path d="M169.5,158.1 H246.5" stroke="#ff8000" stroke-width="2"/>
<text font-family="Liberation Serif, serif" font-size="33.4" x="256" y="169.8">Proposed</text>
<g fill="#808000"><path d="M208.3,22.7l9.5,16h-19z"/></g>
<g fill="#00ffff"><rect x="201.05" y="67.35" width="14.5" height="14.5"/></g>
<g fill="#008000"><circle cx="208.3" cy="116.5" r="7.7"/></g>
<g fill="url(#sph)"><circle cx="208.3" cy="158.2" r="8"/></g>
</g>
<g fill="none" stroke="#3d3d3d" stroke-width="2.8">
<path d="M700.1,13.8 H959 M700.1,230.75 H959"/>
<ellipse cx="700.1" cy="122.3" rx="54.6" ry="108.5"/>
<path d="M959,13.8 A55,108.5 0 0 1 959,230.75"/>
</g>
<g fill="none" stroke="#3d3d3d" stroke-width="2.8" stroke-dasharray="17 9.4">
<path d="M959,13.8 A53,108.5 0 0 0 959,230.75" stroke-dashoffset="17"/>
<path d="M817.5,13.8 A60,108.5 0 0 0 817.5,230.75" stroke-dashoffset="11.5"/>
<path d="M695.5,119.6 H962"/>
<path d="M962.6,13.8 V119.5" stroke-dashoffset="11.5"/>
</g>
<path d="M687.4,81.5 L713.8,98 V158.5 L687.4,141 Z" fill="none" stroke="#3d3d3d" stroke-width="2.8"/>
<g fill="none" stroke="#3d3d3d" stroke-width="2.8" stroke-dasharray="5 3.6">
<path d="M787.8,43.7 L821.6,77.5 V119.5 M787.8,43.7 V90.9 L821.8,119.5"/>
</g>
<g fill="#3d3d3d">
<circle cx="700" cy="119.5" r="3.9"/>
<circle cx="821.8" cy="119.5" r="3.9"/>
<circle cx="962.2" cy="119.5" r="4.3"/>
<circle cx="787.8" cy="43.7" r="3.8"/>
<circle cx="821.6" cy="77.5" r="3.8"/>
<circle cx="788.2" cy="90.9" r="3.8"/>
</g>
<g font-family="Liberation Serif, serif" font-size="24.3" font-weight="bold" fill="#111">
<text x="669.9" y="121.4" text-anchor="middle">40</text>
<text x="694.8" y="169.6" text-anchor="middle">20</text>
<text x="785" y="144.5" text-anchor="middle">60</text>
<text x="815.4" y="53.2" text-anchor="middle">30</text>
<text x="839.0" y="105" text-anchor="middle">30</text>
<text x="986.7" y="88.6" text-anchor="middle">150</text>
<text x="853.4" y="260.8" text-anchor="middle">340</text>
<text x="774.3" y="37.8" text-anchor="middle">P</text>
</g>
</svg>
</body></html>
